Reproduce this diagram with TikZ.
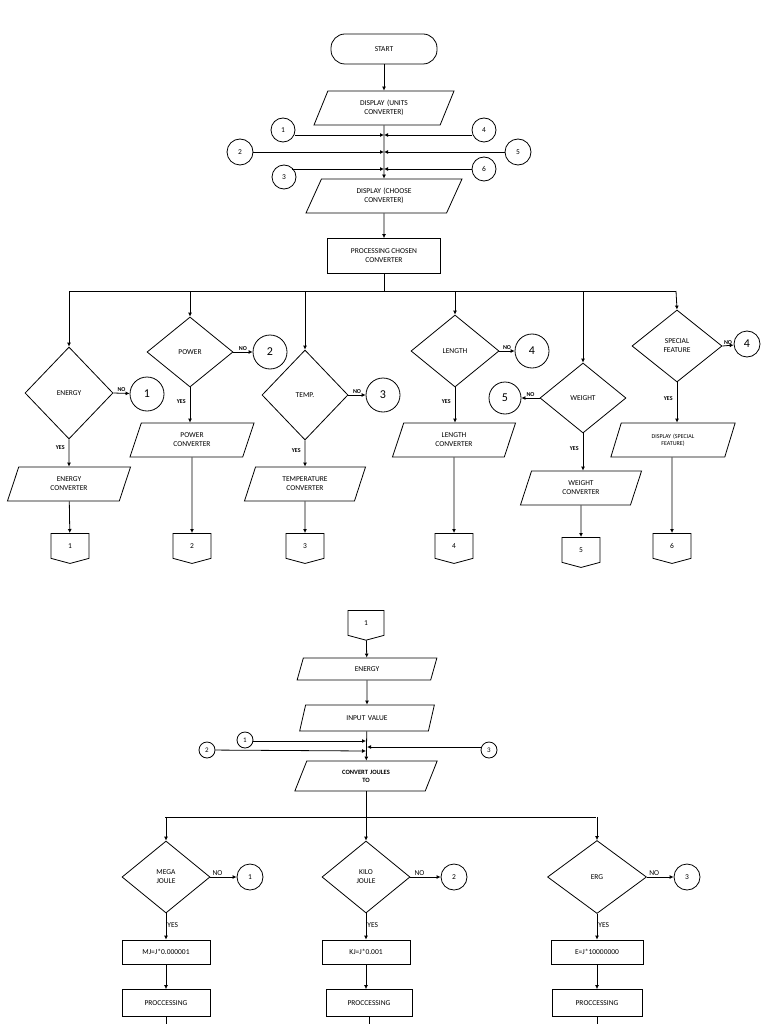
\documentclass[tikz,border=0pt]{standalone}
\usepackage{fontspec}
\setmainfont{Carlito}
\usetikzlibrary{shapes.geometric,shapes.symbols,arrows.meta}
\begin{document}
\begin{tikzpicture}[x=1pt,y=-1pt,line width=0.8pt,
  every node/.style={font=\fontsize{7.5}{9}\selectfont,align=center,inner sep=1pt},
  io/.style={draw,trapezium,trapezium left angle=60,trapezium right angle=120,minimum height=#1,text width=80pt},
  dec/.style={draw,diamond,aspect=1.25,inner sep=0pt},
  box/.style={draw,rectangle},
  circ/.style={draw,circle,inner sep=0pt,minimum size=#1},
  arr/.style={-{Latex[length=4pt,width=4pt]}},
  lab/.style={font=\fontsize{6}{7}\selectfont\bfseries}]
\useasboundingbox (0,0) rectangle (768,1024);
% top part
\node[draw,rounded corners=14pt,minimum width=106pt,minimum height=30pt] (start) at (384,49) {START};
\node[io=34pt,trapezium stretches=true,minimum width=140pt] (du) at (384,108) {DISPLAY (UNITS\\CONVERTER)};
\node[io=34pt,trapezium stretches=true,minimum width=156pt] (dc) at (384,196) {DISPLAY (CHOOSE\\CONVERTER)};
\node[box,minimum width=113pt,minimum height=35pt] (pc) at (384,256) {PROCESSING CHOSEN\\CONVERTER};
\draw[arr] (start) -- (du);
\draw[arr] (du) -- (dc);
\draw[arr] (dc) -- (pc);
\node[circ=24pt] (c1) at (283,130) {1};
\node[circ=26pt] (c2) at (240,152) {2};
\node[circ=24pt] (c3) at (284,177) {3};
\node[circ=24pt] (c4) at (484,130) {4};
\node[circ=26pt] (c5) at (518,152) {5};
\node[circ=24pt] (c6) at (484,169) {6};
\coordinate (j1) at (384,135); \coordinate (j2) at (384,152); \coordinate (j3) at (384,169);
\draw[arr] (c1.east|-j1) -- (j1);
\draw[arr] (c2) -- (j2);
\draw[arr] (c3.north east) ++(0,-0) |- (j3);
\draw[arr] (c4.west|-j1) -- (j1);
\draw[arr] (c5) -- (j2);
\draw[arr] (c6) -- (j3);
\coordinate (bus) at (384,291);
\draw (pc) -- (bus);
\draw (69,291) -- (676,291);
% diamonds
\node[dec,minimum width=88pt,minimum height=92pt] (d1) at (69,393) {ENERGY};
\node[dec,minimum width=86pt,minimum height=70pt] (d2) at (190,352) {POWER};
\node[dec,minimum width=86pt,minimum height=90pt] (d3) at (305,395) {TEMP.};
\node[dec,minimum width=88pt,minimum height=72pt] (d4) at (455,351) {LENGTH};
\node[dec,minimum width=86pt,minimum height=70pt] (d5) at (583,398) {WEIGHT};
\node[dec,minimum width=90pt,minimum height=72pt] (d6) at (677,346) {SPECIAL\\FEATURE};
\foreach \d/\x in {d1/69,d2/190,d3/305,d4/455,d5/583,d6/676}
  \draw[arr] (\x,291) -- (\d.north);
% no circles
\node[circ=34pt,font=\large] (n1) at (147,394) {1};
\node[circ=34pt,font=\large] (n2) at (270,352) {2};
\node[circ=34pt,font=\large] (n3) at (383,395) {3};
\node[circ=34pt,font=\large] (n4) at (532,351) {4};
\node[circ=32pt,font=\large] (n5) at (505,398) {5};
\node[circ=26pt,font=\large] (n6) at (747,344) {4};
\draw[arr] (d1.east) -- node[lab,above]{NO} (n1);
\draw[arr] (d2.east) -- node[lab,above]{NO} (n2);
\draw[arr] (d3.east) -- node[lab,above]{NO} (n3);
\draw[arr] (d4.east) -- node[lab,above]{NO} (n4);
\draw[arr] (d5.west) -- node[lab,above]{NO} (n5);
\draw[arr] (d6.east) -- node[lab,above]{NO} (n6);
% outputs
\node[io=34pt,trapezium stretches=true,minimum width=124pt] (o1) at (69,484) {ENERGY\\CONVERTER};
\node[io=34pt,trapezium stretches=true,minimum width=125pt] (o2) at (192,440) {POWER\\CONVERTER};
\node[io=34pt,trapezium stretches=true,minimum width=122pt] (o3) at (305,484) {TEMPERATURE\\CONVERTER};
\node[io=34pt,trapezium stretches=true,minimum width=124pt] (o4) at (454,440) {LENGTH\\CONVERTER};
\node[io=34pt,trapezium stretches=true,minimum width=122pt] (o5) at (581,488) {WEIGHT\\CONVERTER};
\node[io=34pt,trapezium stretches=true,minimum width=125pt,font=\fontsize{6}{7}\selectfont] (o6) at (673,440) {DISPLAY (SPECIAL\\FEATURE)};
\draw[arr] (d1.south) -- node[lab,left,pos=0.3,xshift=-3pt]{YES} (o1);
\draw[arr] (d2.south) -- node[lab,left,pos=0.4,xshift=-3pt]{YES} (d2.south|-o2.north);
\draw[arr] (d3.south) -- node[lab,left,pos=0.4,xshift=-3pt]{YES} (o3);
\draw[arr] (d4.south) -- node[lab,left,pos=0.4,xshift=-3pt]{YES} (d4.south|-o4.north);
\draw[arr] (d5.south) -- node[lab,left,pos=0.4,xshift=-3pt]{YES} (d5.south|-o5.north);
\draw[arr] (d6.south) -- node[lab,left,pos=0.4,xshift=-3pt]{YES} (d6.south|-o6.north);
% off-page connectors
\foreach \n/\x/\y in {1/70/533,2/192/533,3/305/533,4/454/533,5/581/537,6/672/533}{
  \node[draw,shape=signal,signal to=south,signal pointer angle=150,minimum width=38pt,minimum height=26pt,inner sep=2pt,anchor=north] (p\n) at (\x,\y) {\n};
}
\draw[arr] (o1) -- (p1);
\draw[arr] (o2.south-|p2) -- (p2);
\draw[arr] (o3) -- (p3);
\draw[arr] (o4.south-|p4) -- (p4);
\draw[arr] (o5.south-|p5) -- (p5);
\draw[arr] (o6.south-|p6) -- (p6);
% bottom part
\node[draw,shape=signal,signal to=south,signal pointer angle=150,minimum width=36pt,minimum height=26pt,inner sep=2pt,anchor=north] (q1) at (366,610) {1};
\node[io=22pt,trapezium stretches=true,minimum width=140pt] (en) at (367,669) {ENERGY};
\node[io=26pt,trapezium stretches=true,minimum width=135pt] (iv) at (367,718) {INPUT VALUE};
\node[io=30pt,trapezium stretches=true,minimum width=143pt,font=\fontsize{6.5}{8}\selectfont\bfseries] (cj) at (366,776) {CONVERT JOULES\\TO};
\draw[arr] (q1) -- (en);
\draw[arr] (en) -- (iv);
\draw[arr] (iv) -- (cj);
\node[circ=16pt,font=\scriptsize] (b1) at (245,740) {1};
\node[circ=16pt,font=\scriptsize] (b2) at (207,750) {2};
\node[circ=16pt,font=\scriptsize] (b3) at (489,750) {3};
\draw[arr] (b1.east|-0,741) -- (366,741);
\draw[arr] (b2) -- (366,751);
\draw[arr] (b3.west|-0,747) -- (367,747);
\draw (cj) -- (366,817);
\draw (165,817) -- (596,817);
\node[dec,minimum width=88pt,minimum height=72pt] (e1) at (166,877) {MEGA\\JOULE};
\node[dec,minimum width=88pt,minimum height=72pt] (e2) at (366,877) {KILO\\JOULE};
\node[dec,minimum width=99pt,minimum height=73pt] (e3) at (597,877) {ERG};
\foreach \d/\x in {e1/166,e2/366,e3/597} \draw[arr] (\x,817) -- (\d.north);
\node[circ=26pt] (m1) at (250,877) {1};
\node[circ=26pt] (m2) at (454,877) {2};
\node[circ=26pt] (m3) at (687,877) {3};
\draw[arr] (e1.east) -- node[above,xshift=-6pt]{NO} (m1);
\draw[arr] (e2.east) -- node[above,xshift=-6pt]{NO} (m2);
\draw[arr] (e3.east) -- node[above,xshift=-6pt]{NO} (m3);
\node[box,minimum width=88pt,minimum height=24pt] (f1) at (166,952) {MJ=J*0.000001};
\node[box,minimum width=88pt,minimum height=24pt] (f2) at (366,952) {KJ=J*0.001};
\node[box,minimum width=92pt,minimum height=24pt] (f3) at (597,952) {E=J*10000000};
\draw[arr] (e1.south) -- node[right,pos=0.45]{YES} (f1);
\draw[arr] (e2.south) -- node[right,pos=0.45]{YES} (f2);
\draw[arr] (e3.south) -- node[right,pos=0.45]{YES} (f3);
\node[box,minimum width=88pt,minimum height=27pt] (g1) at (166,1003) {PROCCESSING};
\node[box,minimum width=86pt,minimum height=27pt] (g2) at (369,1003) {PROCCESSING};
\node[box,minimum width=90pt,minimum height=27pt] (g3) at (597,1003) {PROCCESSING};
\draw[arr] (f1) -- (g1);
\draw[arr] (f2.south) -- (f2.south|-g2.north);
\draw[arr] (f3) -- (g3);
\coordinate (t1) at (166,1024); \coordinate (t2) at (369,1024); \coordinate (t3) at (597,1024);
\draw (g1) -- (t1); \draw (g2) -- (t2); \draw (g3) -- (t3);
\end{tikzpicture}
\end{document}
